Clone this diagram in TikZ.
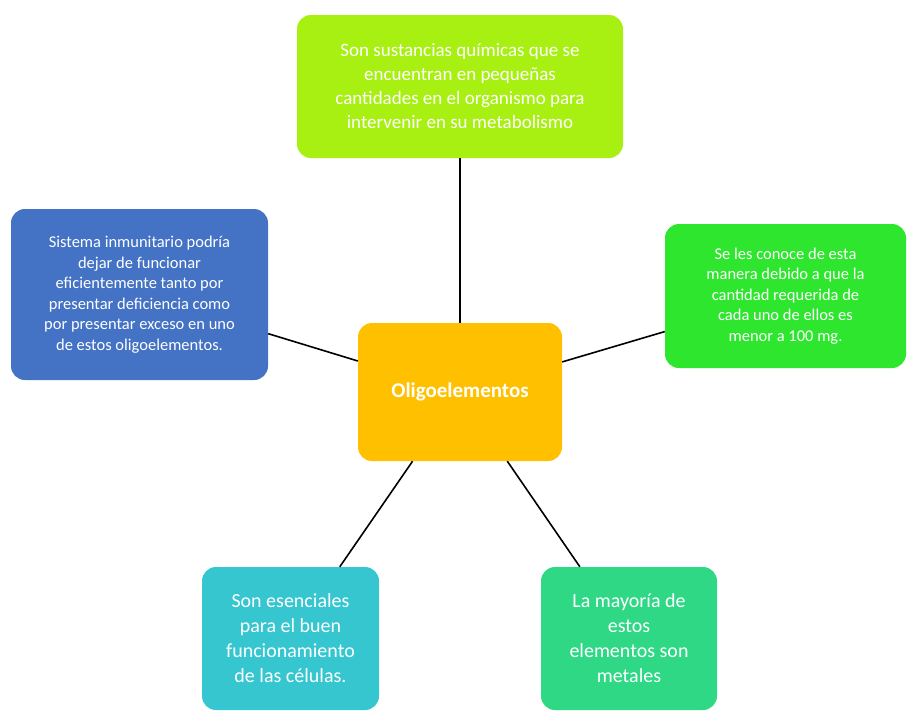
\documentclass[tikz,border=0pt]{standalone}
\usepackage{fontspec}
\setmainfont{Carlito}
\definecolor{cOrange}{HTML}{FFC000}
\definecolor{cLime}{HTML}{A7F012}
\definecolor{cBlue}{HTML}{4472C4}
\definecolor{cGreen}{HTML}{2EE62E}
\definecolor{cCyan}{HTML}{35C6D0}
\definecolor{cMint}{HTML}{2ED884}
\begin{document}
\begin{tikzpicture}[x=1pt,y=-1pt,
  box/.style={rounded corners=14pt,text=white,align=center,inner sep=0pt,draw=none},
  link/.style={line width=1.6pt,black}]
\useasboundingbox (0,0) rectangle (921,726);
\node[box,fill=cOrange,minimum width=204pt,minimum height=138pt,font=\bfseries\fontsize{21}{25}\selectfont] (c) at (460,392) {Oligoelementos};
\node[box,fill=cLime,minimum width=326pt,minimum height=143pt,font=\fontsize{19}{24}\selectfont] (t) at (460,86.5) {Son sustancias químicas que se\\encuentran en pequeñas\\cantidades en el organismo para\\intervenir en su metabolismo};
\node[box,fill=cBlue,minimum width=257pt,minimum height=171pt,font=\fontsize{16.5}{20.5}\selectfont] (l) at (139.5,294.5) {Sistema inmunitario podría\\dejar de funcionar\\eficientemente tanto por\\presentar deficiencia como\\por presentar exceso en uno\\de estos oligoelementos.};
\node[box,fill=cGreen,minimum width=241pt,minimum height=144pt,font=\fontsize{16.5}{20.5}\selectfont] (r) at (785.5,296) {Se les conoce de esta\\manera debido a que la\\cantidad requerida de\\cada uno de ellos es\\menor a 100 mg.};
\node[box,fill=cCyan,minimum width=177pt,minimum height=143pt,font=\fontsize{20}{25}\selectfont] (bl) at (290.5,638.5) {Son esenciales\\para el buen\\funcionamiento\\de las células.};
\node[box,fill=cMint,minimum width=176pt,minimum height=143pt,font=\fontsize{20}{25}\selectfont] (br) at (629,638.5) {La mayoría de\\estos\\elementos son\\metales};
\draw[link] (t) -- (c);
\draw[link] (l) -- (c);
\draw[link] (r) -- (c);
\draw[link] (bl) -- (c);
\draw[link] (br) -- (c);
\end{tikzpicture}
\end{document}
